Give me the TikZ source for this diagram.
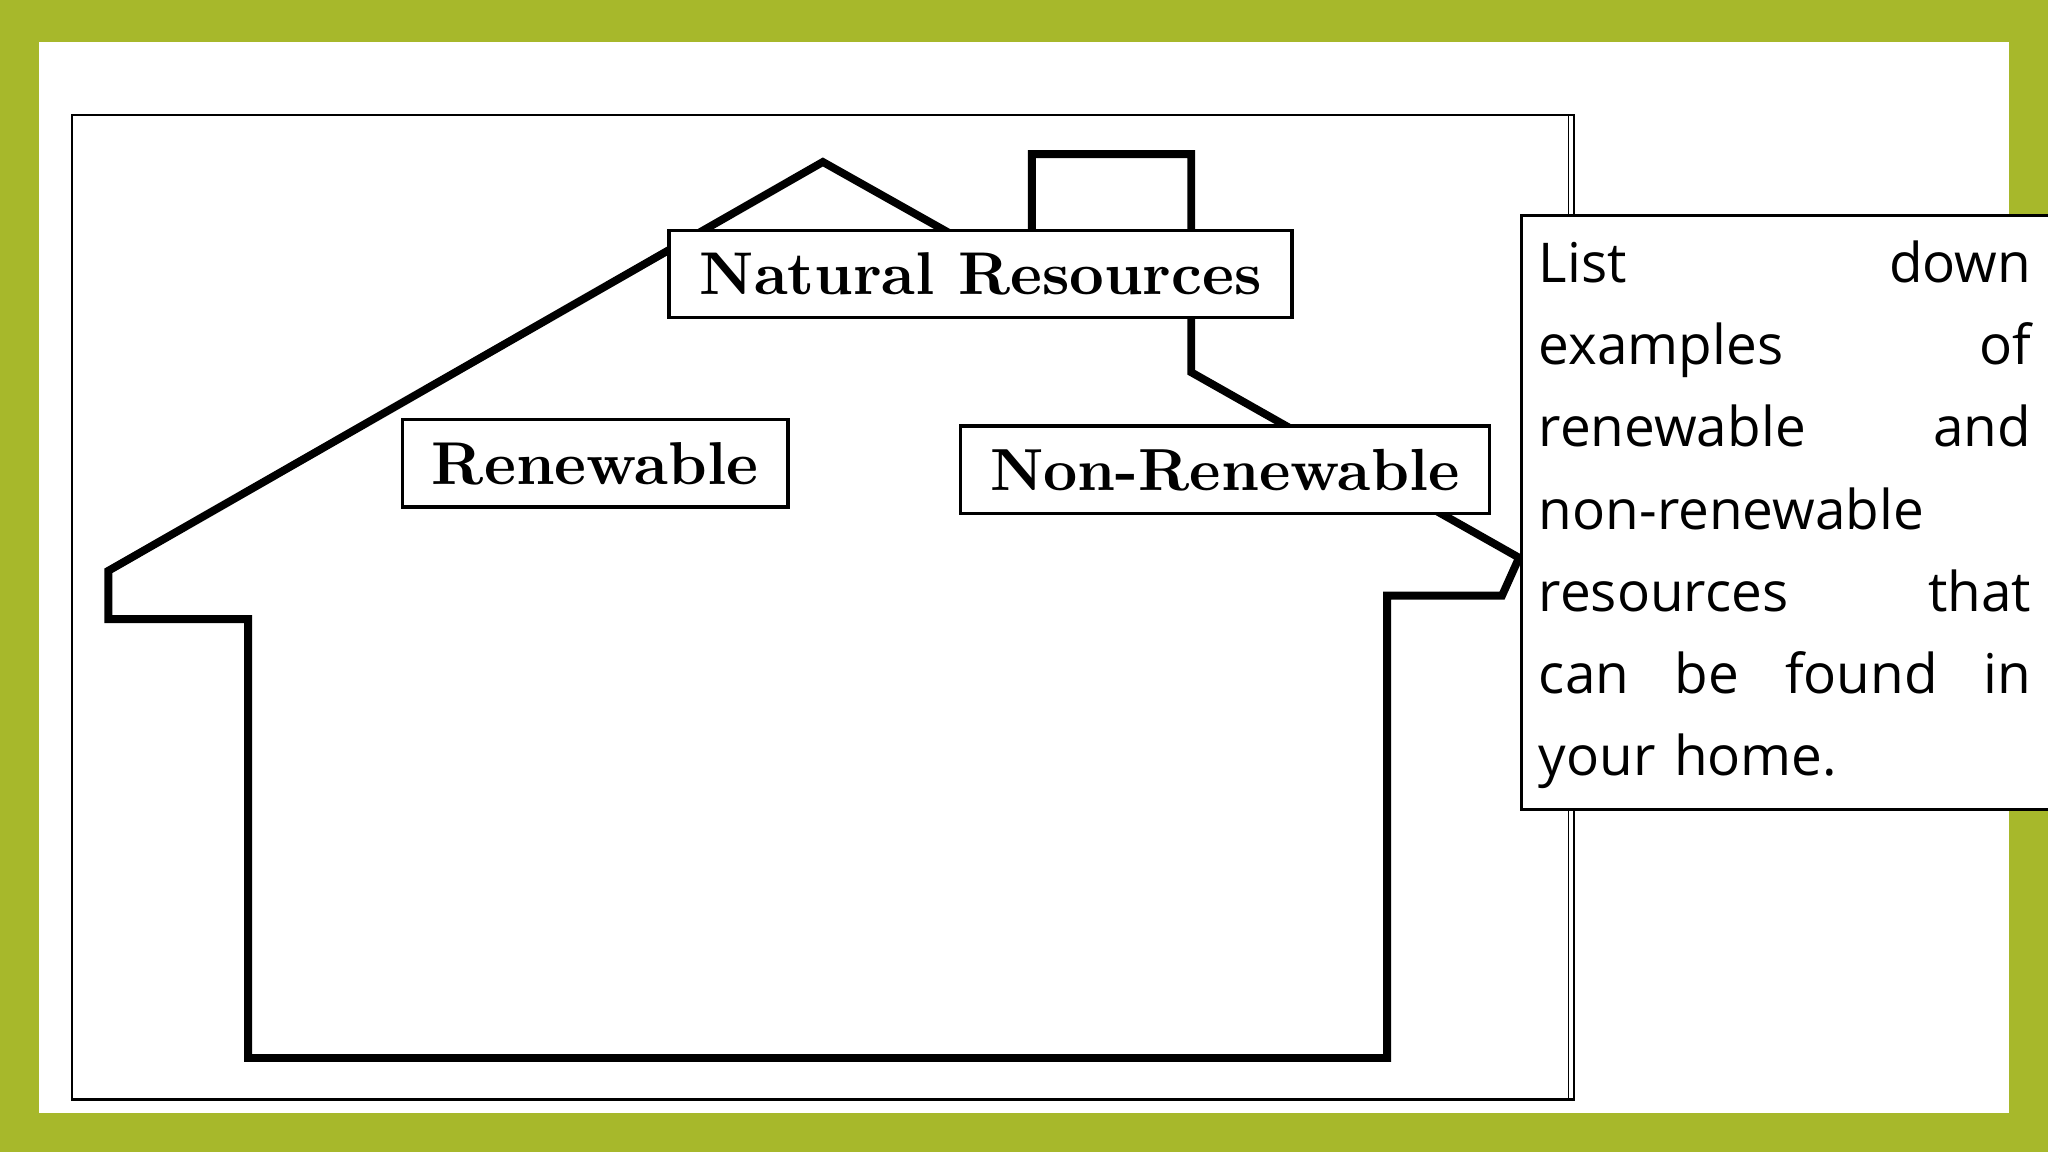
\documentclass[tikz,border=0pt]{standalone}
\usepackage{fontspec}
\usepackage{graphicx}
\newfontfamily\osans{Open Sans}
\definecolor{frameGreen}{HTML}{A7B82B}
\tikzset{
  label box/.style={draw=black, line width=2.5pt, fill=white, inner sep=0pt, anchor=north west},
  house/.style={draw=black, line width=6pt, line join=miter},
}
\begin{document}
\begin{tikzpicture}[x=1pt,y=-1pt]
\useasboundingbox (0,0) rectangle (1568,882);
\fill[frameGreen] (0,0) rectangle (1568,882);
\fill[white] (30,32) rectangle (1538,852);
\draw[line width=2pt] (55,88) rectangle (1205,842);
\draw[line width=1pt] (1201,88) -- (1201,842);
\draw[house] (190,810) -- (190,474) -- (83,474) -- (83,437) -- (630,124) -- (790,214) -- (790,118) -- (912,118) -- (912,285) -- (1163,427) -- (1150,456) -- (1062,456) -- (1062,810) -- cycle;
\node[label box, minimum width=477pt, minimum height=67pt] (nat) at (511,175) {};
\node at (nat.center) {\resizebox{430pt}{!}{\bfseries Natural Resources}};
\node[label box, minimum width=295pt, minimum height=67pt] (ren) at (307,320) {};
\node at (ren.center) {\resizebox{250pt}{!}{\bfseries Renewable}};
\node[label box, minimum width=405pt, minimum height=67pt] (non) at (734,325) {};
\node at (non.center) {\resizebox{359pt}{!}{\bfseries Non-Renewable}};
\draw[line width=2pt, fill=white] (1575,165) -- (1165,165) -- (1165,620) -- (1575,620);
\node[anchor=north west, inner sep=0pt, text width=377pt, align=left,
      font=\osans\fontsize{42}{63}\selectfont] (txt) at (1178,184)
 {List\hfill down\\
 examples\hfill of\\
 renewable\hfill and\\
 non-renewable\\
 resources\hfill that\\
 can\hfill be\hfill found\hfill in\\
 your home.\par};
\end{tikzpicture}
\end{document}
